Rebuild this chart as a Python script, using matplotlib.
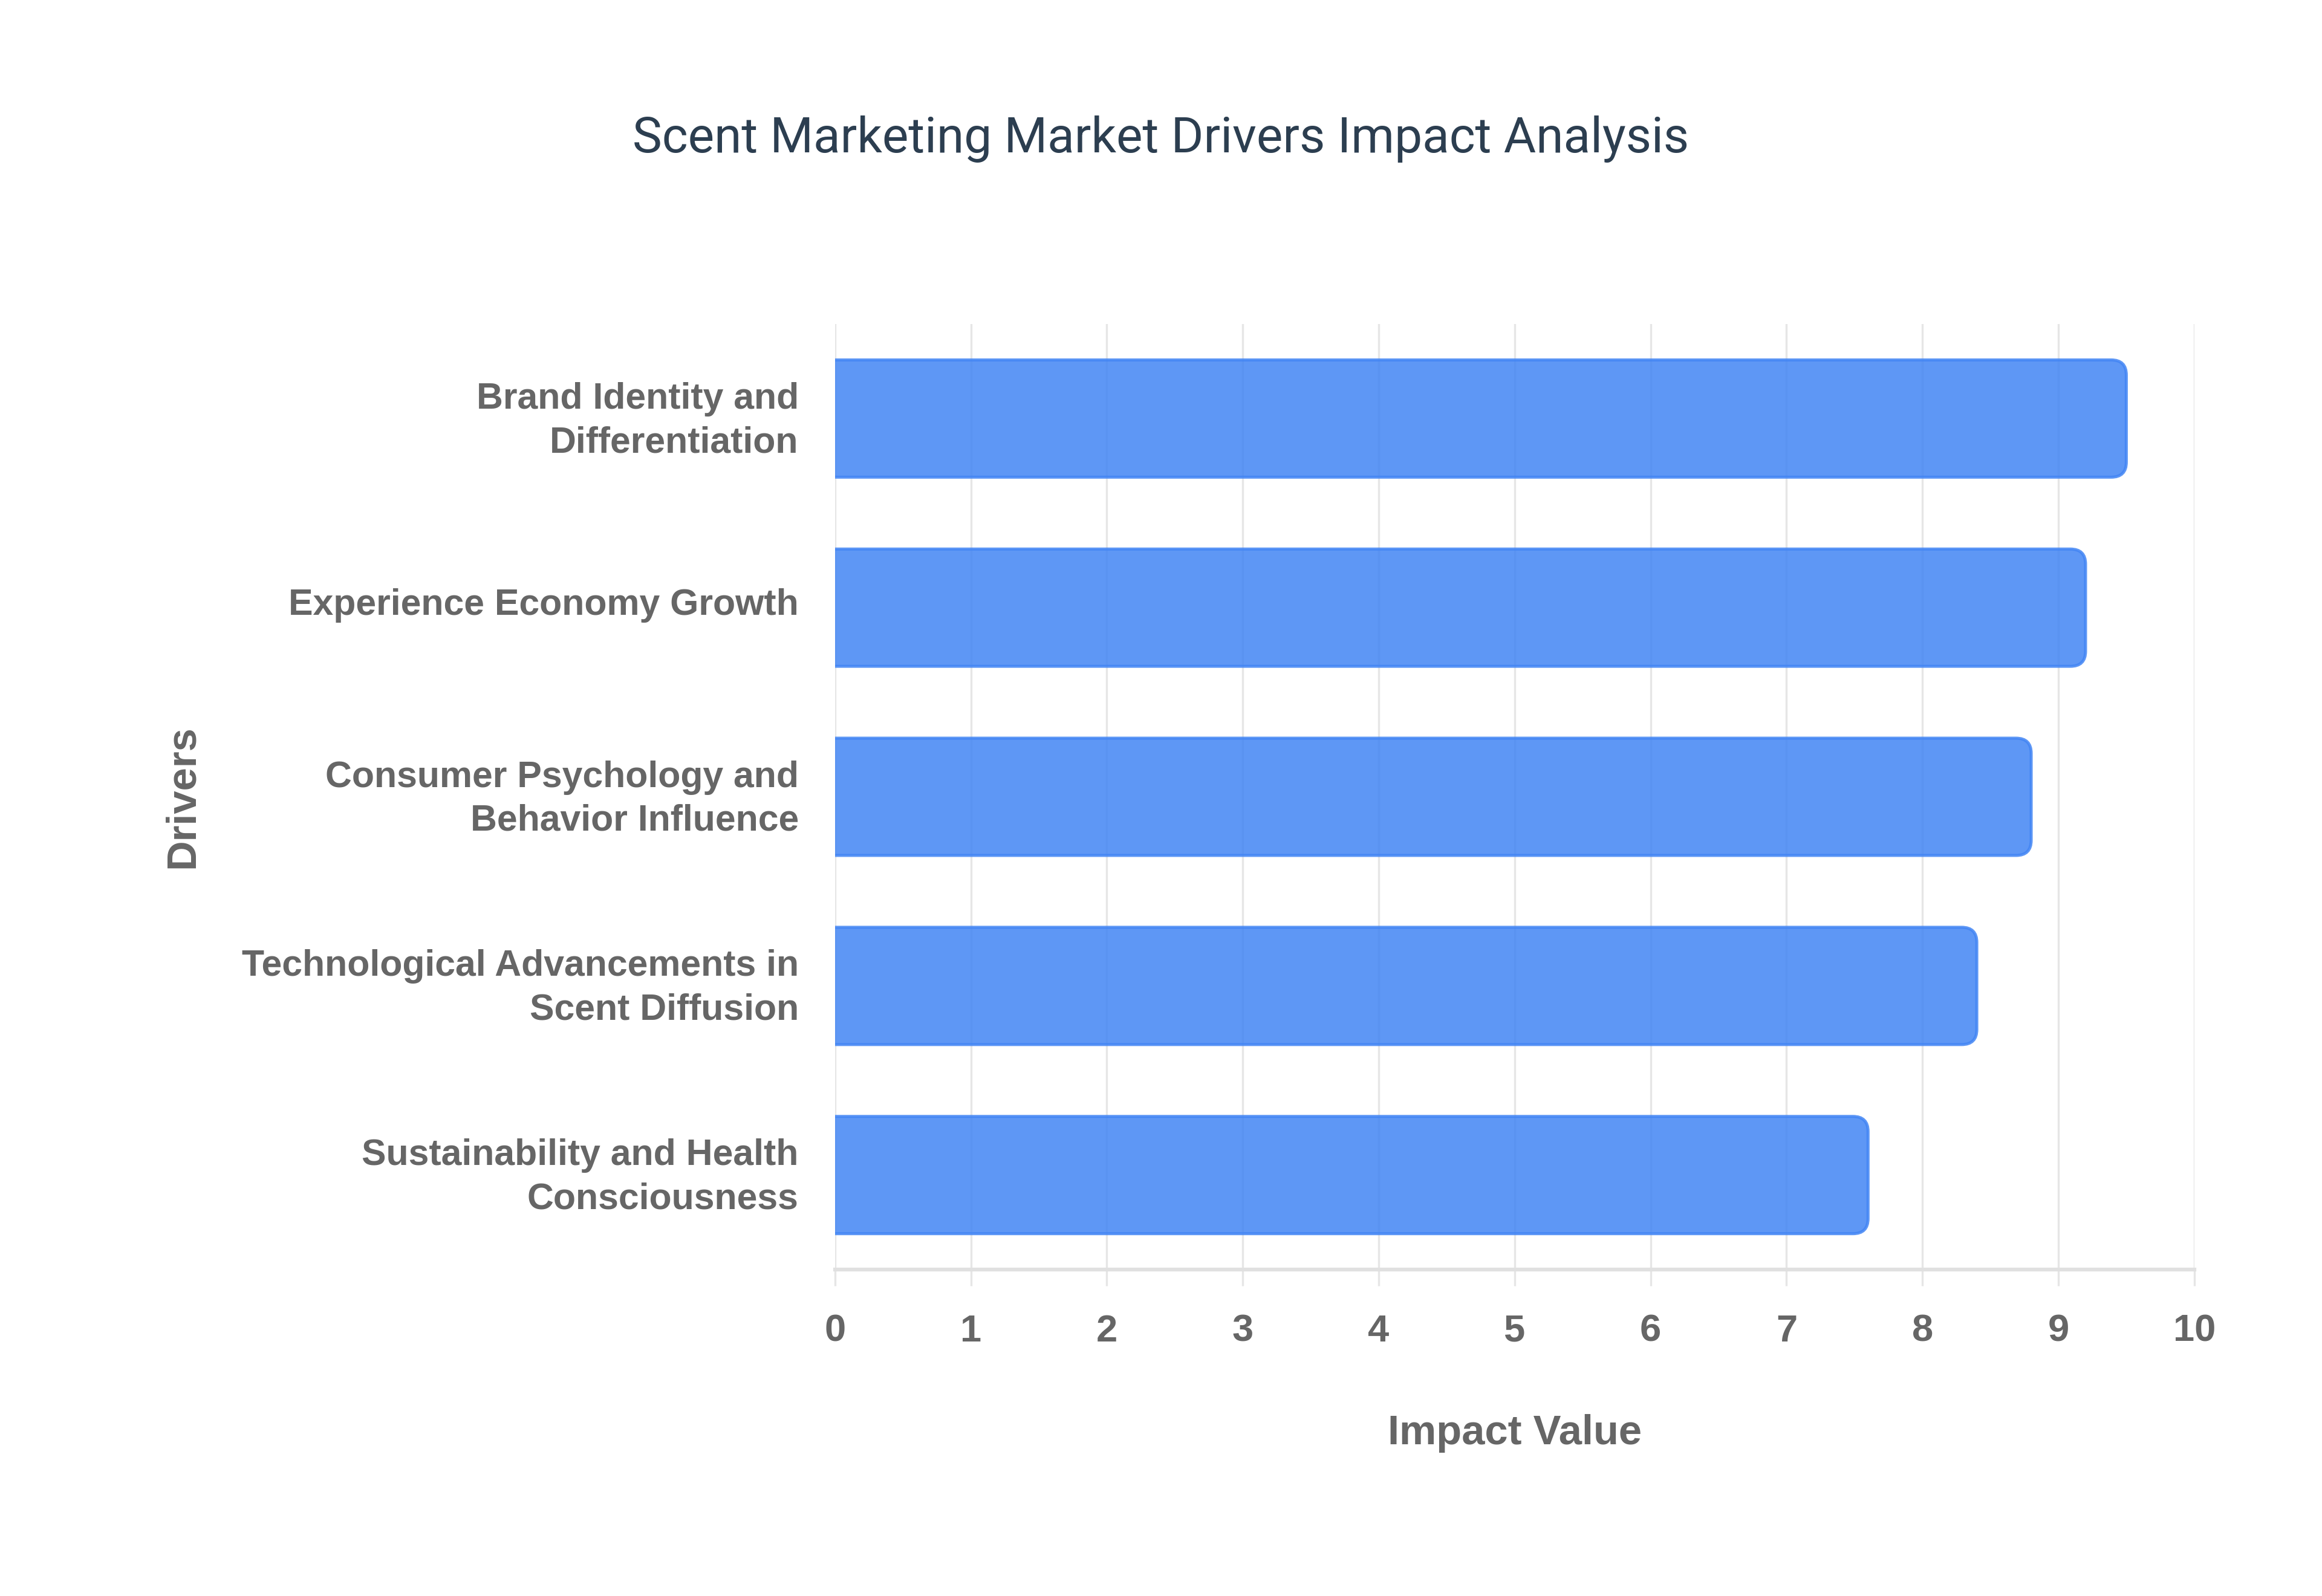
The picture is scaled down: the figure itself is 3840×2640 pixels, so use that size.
import matplotlib
matplotlib.use('Agg')
import matplotlib.pyplot as plt
import matplotlib.transforms as mtransforms
from matplotlib.patches import FancyBboxPatch

drivers = ['Brand Identity and\nDifferentiation',
           'Experience Economy Growth',
           'Consumer Psychology and\nBehavior Influence',
           'Technological Advancements in\nScent Diffusion',
           'Sustainability and Health\nConsciousness']
impact = [9.5, 9.2, 8.8, 8.4, 7.6]
x_ticks = list(range(0, 11))

BAR = '#4285F4'
GRID = '#e6e6e6'
TXT = '#666666'

plt.rcParams['font.family'] = ['Liberation Sans', 'DejaVu Sans']

fig = plt.figure(figsize=(12.8, 8.8), dpi=300)
ax = fig.add_axes([0.3596, 0.2045, 0.5854, 0.5925])

ypos = list(range(len(drivers)))
bars = ax.barh(ypos, impact, height=0.62, color=BAR, alpha=0.85)
ax.set_xlim(0, 10)
ax.set_ylim(len(drivers) - 0.5, -0.5)
fig.canvas.draw()

# swap plain bars for ones with rounded ends (left end hidden past x=0)
px_x = ax.transData.transform((1, 0))[0] - ax.transData.transform((0, 0))[0]
px_y = abs(ax.transData.transform((0, 1))[1] - ax.transData.transform((0, 0))[1])
r = 25 / px_x
asp = px_x / px_y
for b in bars:
    x0, y0, w, h = b.get_x(), b.get_y(), b.get_width(), b.get_height()
    b.remove()
    p = FancyBboxPatch((x0 - 0.5, y0), w + 0.5, h,
                       boxstyle='round,pad=0,rounding_size=%f' % r,
                       mutation_aspect=asp, facecolor=BAR, alpha=0.85,
                       edgecolor=BAR, linewidth=1.2, zorder=2)
    ax.add_patch(p)

ax.set_xticks(x_ticks)
ax.set_yticks(ypos)
ax.set_yticklabels(drivers, linespacing=1.35)
ax.set_axisbelow(True)
ax.xaxis.grid(True, color=GRID, linewidth=0.8)
for s in ['top', 'right', 'left']:
    ax.spines[s].set_visible(False)
ax.spines['bottom'].set_color('#e0e0e0')
ax.spines['bottom'].set_linewidth(1.5)

ax.tick_params(axis='x', length=6.4, width=0.8, color=GRID, pad=11,
               labelsize=15.2, labelcolor=TXT)
ax.tick_params(axis='y', length=0, pad=14.4, labelsize=14.6, labelcolor=TXT)
for lab in ax.get_xticklabels() + ax.get_yticklabels():
    lab.set_fontweight('bold')

# nudge driver labels up a little
shift = mtransforms.ScaledTranslation(0, 2.4 / 72, fig.dpi_scale_trans)
for tick in ax.yaxis.get_major_ticks():
    tick.label1.set_transform(tick.label1.get_transform() + shift)

ax.set_xlabel('Impact Value', fontsize=16.5, fontweight='bold', color=TXT, va='center')
ax.xaxis.set_label_coords(0.5, -0.173)
ax.set_ylabel('Drivers', fontsize=16.5, fontweight='bold', color=TXT, va='center')
ax.yaxis.set_label_coords(-0.48, 0.5)

fig.text(0.5, 0.913, 'Scent Marketing Market Drivers Impact Analysis',
         ha='center', va='center', fontsize=19.7, color='#2c3e50',
         family=['Roboto', 'DejaVu Sans'])

fig.savefig('out.png', dpi=300)
